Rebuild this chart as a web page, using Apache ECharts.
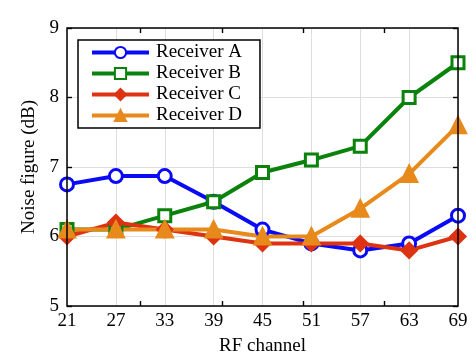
<!DOCTYPE html>
<html>
<head>
<meta charset="utf-8">
<script src="https://cdn.jsdelivr.net/npm/echarts@6/dist/echarts.min.js"></script>
<style>html,body{margin:0;padding:0;background:#fff;}#c{width:474px;height:361px;}</style>
</head>
<body>
<div id="c"></div>
<script>
const categories = ['21','27','33','39','45','51','57','63','69'];
const receiverA = [6.75, 6.87, 6.87, 6.5, 6.1, 5.9, 5.8, 5.9, 6.3];
const receiverB = [6.1, 6.1, 6.3, 6.5, 6.92, 7.1, 7.3, 8.0, 8.5];
const receiverC = [6.0, 6.2, 6.1, 6.0, 5.9, 5.9, 5.9, 5.8, 6.0];
const receiverD = [6.1, 6.1, 6.1, 6.1, 6.0, 6.0, 6.4, 6.9, 7.6];
const channelStart = 21;
const channelEnd = 69;
const minorTickStep = 10;

const allChannels = [];
for (let c = channelStart; c <= channelEnd; c++) allChannels.push(String(c));

const font = 'Liberation Serif';
const chart = echarts.init(document.getElementById('c'), null, {renderer: 'canvas'});

function mk(name, data, color, symbol, fill, size) {
  return {
    name, type: 'line', data, xAxisIndex: 0, yAxisIndex: 0,
    symbol, symbolSize: size, showAllSymbol: true,
    lineStyle: {color, width: 4},
    itemStyle: {color: fill, borderColor: color, borderWidth: 3},
    emphasis: {disabled: true}, animation: false, z: 3
  };
}

function tickAxis(pos) {
  return {
    type: 'category', data: allChannels, boundaryGap: false, position: pos,
    axisLine: {show: false}, axisLabel: {show: false}, splitLine: {show: false},
    axisTick: {show: true, inside: true, length: 5,
      interval: (i, v) => Number(v) % minorTickStep === 0,
      lineStyle: {color: '#000', width: 1.4}}
  };
}

chart.setOption({
  animation: false,
  backgroundColor: '#fff',
  grid: {left: 67, right: 16, top: 28, bottom: 55, show: true, borderColor: '#000', borderWidth: 1.5, backgroundColor: 'transparent', z: 4},
  legend: {
    left: 78, top: 40, orient: 'vertical',
    backgroundColor: '#fff', borderColor: '#000', borderWidth: 1.5,
    padding: [2, 18, 2, 12], itemGap: 0, itemWidth: 57, itemHeight: 14,
    lineStyle: {width: 4},
    textStyle: {fontFamily: font, fontSize: 19, color: '#000', lineHeight: 21, padding: [0, 0, 0, 2]},
    data: ['Receiver A', 'Receiver B', 'Receiver C', 'Receiver D']
  },
  xAxis: [
    {
      type: 'category', data: categories, boundaryGap: false, position: 'bottom',
      name: 'RF channel', nameLocation: 'middle', nameGap: 31,
      nameTextStyle: {fontFamily: font, fontSize: 19, color: '#000'},
      axisLine: {show: false}, axisTick: {show: false},
      axisLabel: {fontFamily: font, fontSize: 19, color: '#000', margin: 6},
      splitLine: {show: true, lineStyle: {color: '#dedede', width: 1}}
    },
    tickAxis('bottom'),
    tickAxis('top')
  ],
  yAxis: [
    {
      type: 'value', min: 5, max: 9, interval: 1, position: 'left',
      name: 'Noise figure (dB)', nameLocation: 'middle', nameGap: 25,
      nameTextStyle: {fontFamily: font, fontSize: 19, color: '#000'},
      axisLine: {show: false},
      axisTick: {show: true, inside: true, length: 5, lineStyle: {color: '#000', width: 1.4}},
      axisLabel: {fontFamily: font, fontSize: 19, color: '#000', margin: 8},
      splitLine: {show: true, lineStyle: {color: '#dedede', width: 1}}
    },
    {
      type: 'value', min: 5, max: 9, interval: 1, position: 'right',
      axisLine: {show: false}, axisLabel: {show: false}, splitLine: {show: false},
      axisTick: {show: true, inside: true, length: 5, lineStyle: {color: '#000', width: 1.4}}
    }
  ],
  series: [
    mk('Receiver A', receiverA, '#0a0af5', 'circle', '#fff', 13),
    mk('Receiver B', receiverB, '#0b820b', 'rect', '#fff', 12),
    mk('Receiver C', receiverC, '#dd3311', 'diamond', '#dd3311', 14),
    mk('Receiver D', receiverD, '#e8891c', 'triangle', '#e8891c', 15)
  ]
});
</script>
</body>
</html>
